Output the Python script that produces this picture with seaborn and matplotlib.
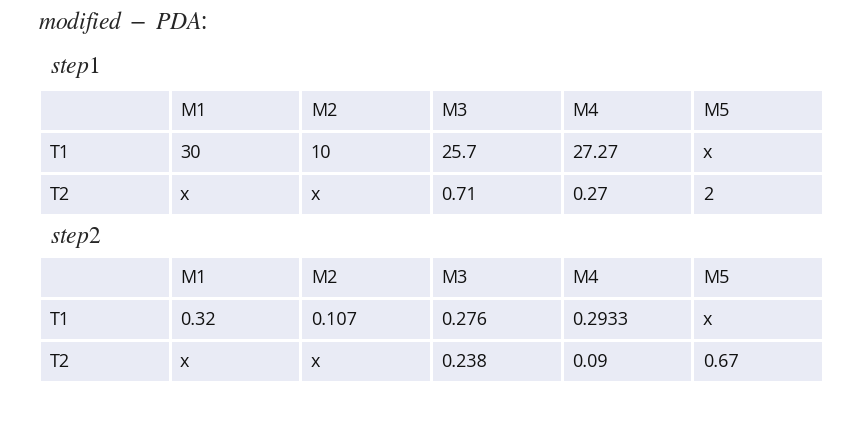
import matplotlib
matplotlib.use("Agg")
import matplotlib.pyplot as plt
import seaborn as sns
import numpy as np

cols = ["", "M1", "M2", "M3", "M4", "M5"]
rows = ["T1", "T2"]
step1_t1 = ["30", "10", "25.7", "27.27", "x"]
step1_t2 = ["x", "x", "0.71", "0.27", "2"]
step2_t1 = ["0.32", "0.107", "0.276", "0.2933", "x"]
step2_t2 = ["x", "x", "0.238", "0.09", "0.67"]

sns.set_theme(style="white")
plt.rcParams["font.family"] = ["Open Sans", "DejaVu Sans"]
plt.rcParams["mathtext.fontset"] = "stix"

W, H = 845, 428
fig = plt.figure(figsize=(W / 100, H / 100), dpi=100)
fill = matplotlib.colors.ListedColormap(["#E9EBF5"])


def draw_table(top, bottom, r1, r2):
    ax = fig.add_axes([39 / W, 1 - bottom / H, 784 / W, (bottom - top) / H])
    grid = [cols, [rows[0]] + r1, [rows[1]] + r2]
    sns.heatmap(np.zeros((3, 6)), cmap=fill, cbar=False, linewidths=2,
                linecolor="white", ax=ax, xticklabels=False, yticklabels=False)
    for i, line in enumerate(grid):
        for j, txt in enumerate(line):
            ax.text(j + 0.08, i + 0.52, txt, ha="left", va="center",
                    fontsize=13, color="#111111")


draw_table(89, 215, step1_t1, step1_t2)
draw_table(256, 382, step2_t1, step2_t2)

fig.text(38 / W, 1 - 22 / H, r"$modified\ -\ PDA$:", fontsize=17, va="center")
fig.text(50 / W, 1 - 67 / H, r"$step1$", fontsize=17, va="center")
fig.text(50 / W, 1 - 237 / H, r"$step2$", fontsize=17, va="center")

fig.savefig("out.png", dpi=100, facecolor="white")
